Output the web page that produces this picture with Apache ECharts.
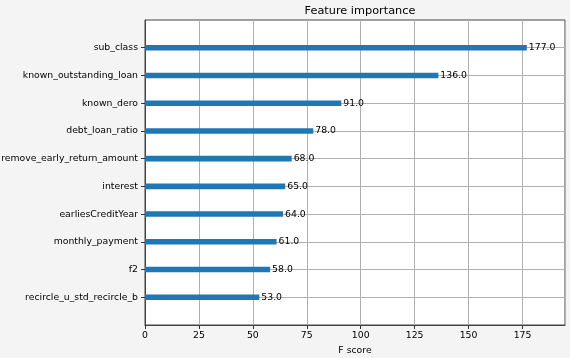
<!DOCTYPE html>
<html><head><meta charset="utf-8">
<script src="https://cdn.jsdelivr.net/npm/echarts@6/dist/echarts.min.js"></script>
<style>html,body{margin:0;padding:0;background:#f4f4f4;}#c{width:570px;height:358px;}</style>
</head><body><div id="c"></div>
<script>
// bottom to top
var features = ['recircle_u_std_recircle_b','f2','monthly_payment','earliesCreditYear','interest','remove_early_return_amount','debt_loan_ratio','known_dero','known_outstanding_loan','sub_class'];
var scores = [53,58,61,64,65,68,78,91,136,177];
var xTicks = [0,25,50,75,100,125,150,175];

var chart = echarts.init(document.getElementById('c'), null, {renderer:'canvas'});
var font = 'DejaVu Sans';
chart.setOption({
  backgroundColor:'#f4f4f4',
  animation:false,
  title:{text:'Feature importance', left:355, top:1, textAlign:'center',
    textStyle:{fontFamily:font, fontSize:11.3, fontWeight:'normal', color:'#000'}},
  grid:{left:145, right:5, top:20, bottom:33, show:true, backgroundColor:'#fff', borderColor:'#444', borderWidth:1,
    containLabel:false, outerBoundsMode:'none'},
  xAxis:{type:'value', min:0, max:194.7, interval:25,
    name:'F score', nameLocation:'middle', nameGap:21,
    nameTextStyle:{fontFamily:font, fontSize:9.3, color:'#000'},
    axisLine:{show:true, onZero:false, lineStyle:{color:'#444'}},
    axisTick:{show:true, length:4, lineStyle:{color:'#333'}},
    axisLabel:{fontFamily:font, fontSize:9.3, color:'#000', margin:6, showMaxLabel:false,
      formatter:function(v){return xTicks.indexOf(v)>=0? String(v):'';}},
    splitLine:{show:true, lineStyle:{color:'#b0b0b0', width:1}}},
  yAxis:{type:'value', min:-1, max:10, interval:1,
    axisLine:{show:true, onZero:false, lineStyle:{color:'#444'}},
    axisTick:{show:true, length:4, lineStyle:{color:'#333'},
      customValues:[0,1,2,3,4,5,6,7,8,9]},
    axisLabel:{fontFamily:font, fontSize:9.3, color:'#000', margin:7,
      formatter:function(v){return (v>=0 && v<features.length)? features[v]:'';}},
    splitLine:{show:true, lineStyle:{color:'#b0b0b0', width:1}}},
  series:[{
    type:'custom',
    data:scores.map(function(s,i){return [s,i];}),
    renderItem:function(params, api){
      var v = api.value(0), i = api.value(1);
      var p0 = api.coord([0, i]);
      var p1 = api.coord([v, i]);
      var h = api.size([0, 0.2])[1];
      return {type:'group', children:[
        {type:'rect', shape:{x:p0[0], y:p0[1]-h/2, width:p1[0]-p0[0], height:h},
          style:{fill:'#1f77b4'}},
        {type:'text', x:p1[0]+2, y:p0[1],
          style:{text:v.toFixed(1), fill:'#000', font:'9.3px "DejaVu Sans"', textVerticalAlign:'middle', textAlign:'left'}}
      ]};
    }
  }]
});
</script></body></html>
